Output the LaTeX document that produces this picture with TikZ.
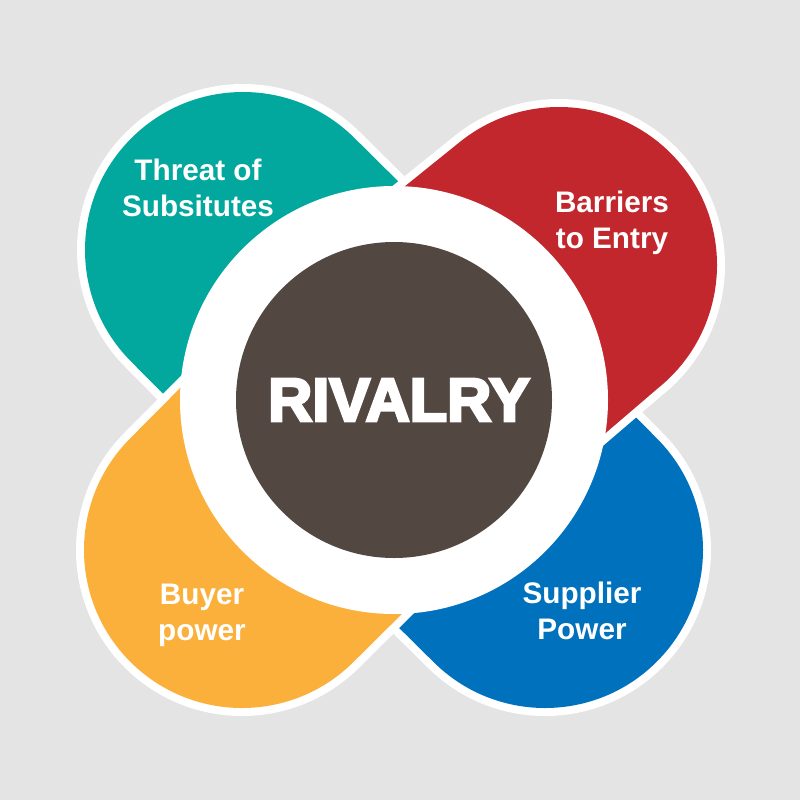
\documentclass[tikz,border=0pt]{standalone}
\usepackage{fontspec}
\setmainfont{Liberation Sans}
\newfontfamily\heavyfont{Liberation Sans Bold}[FakeBold=4.5]
\usetikzlibrary{calc}
\definecolor{bgc}{HTML}{E4E4E4}
\definecolor{tealc}{HTML}{02A89E}
\definecolor{redc}{HTML}{C1272D}
\definecolor{bluec}{HTML}{0071BC}
\definecolor{yellowc}{HTML}{FBB03B}
\definecolor{brownc}{HTML}{534741}
\tikzset{
  petal/.style={preaction={draw=white,line width=4.55pt,line join=miter},fill=#1},
  label/.style={text=white,font=\bfseries\fontsize{8.45pt}{10.2pt}\selectfont,align=center,inner sep=0pt}
}
\begin{document}
\begin{tikzpicture}[x=0.01cm,y=-0.01cm]
\useasboundingbox (0,0) rectangle (800,800);
\fill[bgc] (0,0) rectangle (800,800);
\coordinate (ct) at (243,250);
\coordinate (cb) at (545,550);
\coordinate (cy) at (242,550);
\coordinate (cr) at (559,265);
\coordinate (ctr) at (394,400);
% teal and blue lie under the other two
\path[petal=tealc] (415,198) -- ($(ct)+(-45:158)$) arc[start angle=-45,end angle=-225,radius=158] -- (190,421) -- cycle;
\path[petal=bluec] (600,381) -- ($(cb)+(-45:158)$) arc[start angle=-45,end angle=135,radius=158] -- (380,609) -- cycle;
\path[petal=yellowc] (424,592) -- ($(cy)+(45:158)$) arc[start angle=45,end angle=225,radius=158] -- (200,368) -- cycle;
\path[petal=redc] (373,212) -- ($(cr)+(231:158)$) arc[start angle=231,end angle=411,radius=158] -- (580,455) -- cycle;
\fill[white] (ctr) circle[radius=214];
\fill[brownc] (ctr) circle[radius=158];
\node[label] (threat) at (198,188) {Threat of\\Subsitutes};
\node[label] (barriers) at (612,223) {Barriers\\to Entry};
\node[label] (buyer) at (202,615) {Buyer\\power};
\node[label] (supplier) at (582,611) {Supplier\\Power};
\node[text=white,inner sep=0pt,font=\heavyfont\fontsize{17.4pt}{20pt}\selectfont] (rivalry) at (399,400) {RIVALRY};
\end{tikzpicture}
\end{document}
